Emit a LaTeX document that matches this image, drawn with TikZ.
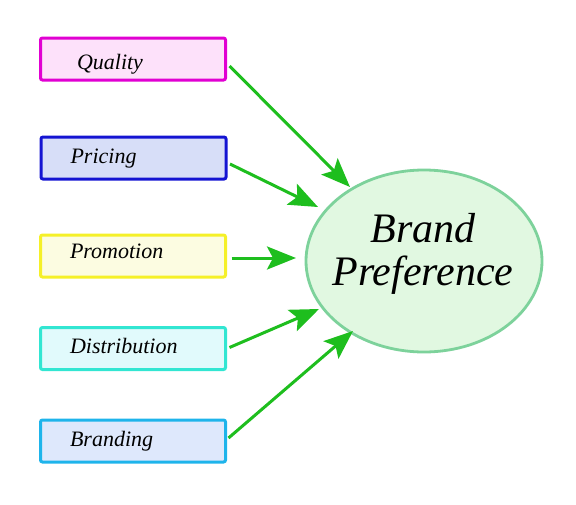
\documentclass[tikz,border=0pt]{standalone}
\usepackage{fontspec}
\setmainfont{Liberation Serif}
\usetikzlibrary{arrows.meta,shapes.geometric}
\definecolor{qualityline}{RGB}{225,0,210}
\definecolor{qualityfill}{RGB}{253,225,250}
\definecolor{pricingline}{RGB}{20,20,210}
\definecolor{pricingfill}{RGB}{215,222,248}
\definecolor{promoline}{RGB}{245,240,40}
\definecolor{promofill}{RGB}{252,252,225}
\definecolor{distline}{RGB}{50,230,210}
\definecolor{distfill}{RGB}{225,250,252}
\definecolor{brandline}{RGB}{30,180,235}
\definecolor{brandfill}{RGB}{222,232,252}
\definecolor{prefline}{RGB}{125,210,155}
\definecolor{preffill}{RGB}{225,248,225}
\definecolor{arrowgreen}{RGB}{30,190,30}
\begin{document}
\begin{tikzpicture}[x=1pt,y=-1pt,
  factor/.style={draw, line width=3pt, rounded corners=2pt, minimum width=185pt,
    minimum height=42pt, outer sep=0pt, text width=126pt, align=left,
    text height=15pt, text depth=5pt,
    font=\fontsize{22}{24}\selectfont\itshape},
  push/.style={draw=arrowgreen, line width=3pt,
    -{Stealth[length=29pt,width=23pt,inset=6pt]}}]
  \useasboundingbox (0,0) rectangle (576,504);
  \node [factor, draw=qualityline, fill=qualityfill, text height=21pt, text depth=0pt] (quality) at (133,59) {\hspace*{7pt}Quality};
  \node [factor, draw=pricingline, fill=pricingfill] (pricing) at (133.5,158) {Pricing};
  \node [factor, draw=promoline, fill=promofill, text height=12pt, text depth=8pt] (promotion) at (133,256) {Promotion};
  \node [factor, draw=distline, fill=distfill] (distribution) at (133,348.5) {Distribution};
  \node [factor, draw=brandline, fill=brandfill] (branding) at (133,441) {Branding};
  \node [draw=prefline, fill=preffill, line width=2.8pt, ellipse, inner sep=0pt,
    minimum width=236pt, minimum height=182pt] (pref) at (424,261) {};
  \node [align=center, inner sep=0pt, font=\fontsize{42}{43}\selectfont\itshape]
    (preftext) at (423,254) {Brand\\Preference};
  % arrow tips stop short of the ellipse
  \coordinate (qtip) at (350,187);
  \coordinate (ptip) at (318,207);
  \coordinate (mtip) at (296,258);
  \coordinate (dtip) at (319,309);
  \coordinate (btip) at (353,331);
  \draw [push] ([shift={(4pt,-7pt)}]quality.east) -- (qtip);
  \draw [push] ([shift={(4pt,-6pt)}]pricing.east) -- (ptip);
  \draw [push] ([shift={(6pt,-2pt)}]promotion.east) -- (mtip);
  \draw [push] ([shift={(4pt,1pt)}]distribution.east) -- (dtip);
  \draw [push] ([shift={(3pt,3pt)}]branding.east) -- (btip);
\end{tikzpicture}
\end{document}
